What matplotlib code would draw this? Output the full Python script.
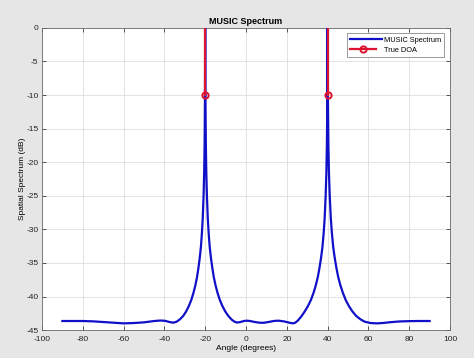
import matplotlib
matplotlib.use("Agg")
import matplotlib.pyplot as plt
import numpy as np
from matplotlib.legend_handler import HandlerLine2D

# MUSIC pseudo-spectrum (degrees, dB)
angles = [
    # left floor
    -90, -85, -80, -75, -70, -65, -60, -55, -50, -45, -42, -39.7, -37.5, -35.6,
    # peak at -20
    -34.0, -32.4, -30.8, -29.3, -28.0, -26.8, -25.7, -24.8, -24.0, -23.3,
    -22.7, -22.1, -21.6, -21.2, -20.8, -20.5, -20.3, -20.15, -20.08, -20,
    -19.92, -19.84, -19.68, -19.47, -19.16, -18.74, -18.32, -17.8, -17.16,
    -16.53, -15.8, -14.96, -14.01, -12.86, -11.6, -10.23, -8.66, -7.0, -5.8,
    # middle ripple
    -4.5, -3, -1, 0.3, 2, 4, 6.5, 8.5, 11, 13.5, 15.8, 18.5, 21, 22.2, 23.2,
    # peak at 40
    24.2, 25.3, 27.04, 28.84, 30.4, 31.84, 33.16, 34.24, 35.2, 36.04, 36.76,
    37.48, 38.08, 38.56, 39.04, 39.4, 39.64, 39.82, 39.9, 40,
    40.1, 40.2, 40.39, 40.65, 41.04, 41.56, 42.08, 42.73, 43.51, 44.29, 45.2,
    46.24, 47.41, 48.84, 50.4, 52.09, 54.04, 56.12, 58.2,
    # right floor
    61, 64, 67, 70, 75, 80, 85, 90,
]
spectrum_db = [
    -43.65, -43.65, -43.65, -43.7, -43.8, -43.9, -44.0, -43.95, -43.85, -43.65,
    -43.58, -43.62, -43.8, -43.9,
    -43.75, -43.4, -42.9, -42.2, -41.4, -40.5, -39.4, -38.3, -37.1, -35.7,
    -34.3, -32.6, -30.5, -28.3, -25.0, -21.5, -17.5, -12.0, -8.0, 0.0,
    -8.0, -12.0, -17.5, -21.5, -25.0, -28.3, -30.5, -32.6, -34.3,
    -35.7, -37.1, -38.3, -39.4, -40.5, -41.4, -42.2, -42.9, -43.45, -43.72,
    -43.88, -43.82, -43.65, -43.6, -43.65, -43.78, -43.9, -43.92, -43.8,
    -43.65, -43.6, -43.7, -43.88, -43.96, -44.0,
    -43.88, -43.62, -43.0, -42.2, -41.4, -40.5, -39.4, -38.3, -37.1, -35.7,
    -34.3, -32.6, -30.5, -28.3, -25.0, -21.5, -17.5, -12.0, -8.0, 0.0,
    -8.0, -12.0, -17.5, -21.5, -25.0, -28.3, -30.5, -32.6, -34.3, -35.7, -37.1,
    -38.3, -39.4, -40.5, -41.4, -42.2, -42.9, -43.4, -43.75,
    -43.95, -44.0, -43.95, -43.85, -43.72, -43.67, -43.65, -43.65,
]
true_doa = [-20, 40]
doa_marker_db = -10
doa_top_db = 0

blue = "#1010c8"
red = "#dc1430"


class MarkerAtEnd(HandlerLine2D):
    # MATLAB-style legend entry: short line with the marker near its end
    def get_xdata(self, legend, xdescent, ydescent, width, height, fontsize):
        xdata = [-xdescent, -xdescent + 0.8 * width]
        return xdata, [-xdescent + 0.76 * width]


plt.rcParams["font.family"] = ["Liberation Sans", "DejaVu Sans"]
plt.rcParams["axes.unicode_minus"] = False

fig = plt.figure(figsize=(4.74, 3.58), dpi=100, facecolor="#e6e6e6")
ax = fig.add_axes([0.0886, 0.078, 0.8608, 0.844])
ax.set_facecolor("white")

assert len(angles) == len(spectrum_db)
(music_line,) = ax.plot(angles, spectrum_db, color=blue, lw=1.6,
                        label="MUSIC Spectrum", zorder=3)
doa_lines = []
for doa in true_doa:
    (ln,) = ax.plot([doa, doa], [doa_marker_db, doa_top_db], color=red, lw=1.6,
                    marker="o", markevery=[0], markersize=4.5, markerfacecolor="none",
                    markeredgewidth=1.4, zorder=4)
    doa_lines.append(ln)

ax.set_xlim(-100, 100)
ax.set_ylim(-45, 0)
ax.set_xticks(np.arange(-100, 101, 20))
ax.set_yticks(np.arange(-45, 1, 5))
ax.grid(True, color="#dedede", lw=0.6)
ax.set_axisbelow(True)
ax.tick_params(direction="in", length=3, width=0.6, labelsize=6,
               top=True, right=True, colors="#3a3a3a", labelcolor="#222222")
ax.tick_params(axis="x", pad=4.5)
ax.tick_params(axis="y", pad=2.5)
for spine in ax.spines.values():
    spine.set_color("#6a6a6a")
    spine.set_linewidth(0.6)

ax.set_title("MUSIC Spectrum", fontsize=6.5, fontweight="bold", pad=2.5)
ax.set_xlabel("Angle (degrees)", fontsize=6, labelpad=1.5)
ax.set_ylabel("Spatial Spectrum (dB)", fontsize=6, labelpad=0.5)

leg = ax.legend([music_line, doa_lines[0]], ["MUSIC Spectrum", "True DOA"],
                handler_map={doa_lines[0]: MarkerAtEnd()},
                loc="upper right", fontsize=5.3, fancybox=False, framealpha=1,
                edgecolor="#8a8a8a", borderaxespad=0.75, handlelength=4.3,
                handletextpad=0.35, labelspacing=0.45, borderpad=0.4)
leg.get_frame().set_linewidth(0.6)

fig.savefig("out.png", dpi=100, facecolor=fig.get_facecolor())
